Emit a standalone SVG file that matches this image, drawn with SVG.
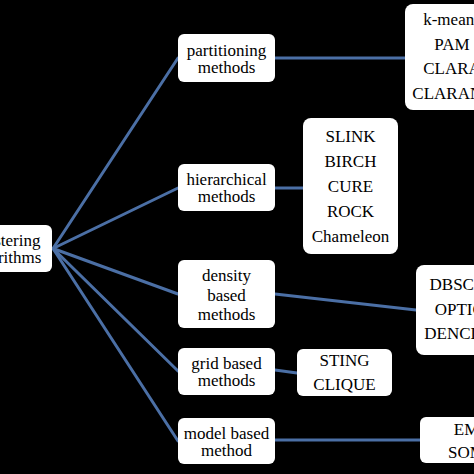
<svg xmlns="http://www.w3.org/2000/svg" width="474" height="474" viewBox="0 0 474 474">
<style>
.box{fill:#ffffff;stroke:none}
.t{font-family:"Liberation Serif","Times New Roman",serif;font-size:17px;fill:#000;text-anchor:middle}
.c{stroke:#4b6fa5;stroke-width:3;fill:none;stroke-linecap:round}
</style>
<rect x="0" y="0" width="474" height="474" fill="#000"/>
<g id="connectors">
<line class="c" x1="53" y1="248.5" x2="178" y2="58"/>
<line class="c" x1="53" y1="248.5" x2="178" y2="188"/>
<line class="c" x1="53" y1="248.5" x2="178" y2="294"/>
<line class="c" x1="53" y1="248.5" x2="178" y2="371"/>
<line class="c" x1="53" y1="248.5" x2="178" y2="441"/>
<line class="c" x1="275" y1="58" x2="405" y2="58"/>
<line class="c" x1="275" y1="188" x2="303" y2="188"/>
<line class="c" x1="275" y1="294" x2="416" y2="310"/>
<line class="c" x1="275" y1="370" x2="297" y2="373"/>
<line class="c" x1="275" y1="440" x2="420" y2="440"/>
</g>
<g id="root">
<rect class="box" x="-38" y="225" width="90" height="47" rx="6"/>
<text class="t" x="5" y="246">Clustering</text>
<text class="t" x="5" y="263">algorithms</text>
</g>
<g id="partitioning">
<rect class="box" x="178" y="34" width="97" height="48" rx="6"/>
<text class="t" x="226.5" y="55.5">partitioning</text>
<text class="t" x="226.5" y="72.5">methods</text>
</g>
<g id="hierarchical">
<rect class="box" x="178" y="164" width="97" height="47" rx="6"/>
<text class="t" x="226.5" y="185">hierarchical</text>
<text class="t" x="226.5" y="202">methods</text>
</g>
<g id="density">
<rect class="box" x="178" y="260" width="97" height="68" rx="6"/>
<text class="t" x="226.5" y="281">density</text>
<text class="t" x="226.5" y="300.5">based</text>
<text class="t" x="226.5" y="320">methods</text>
</g>
<g id="grid">
<rect class="box" x="178" y="348" width="97" height="47" rx="6"/>
<text class="t" x="226.5" y="369">grid based</text>
<text class="t" x="226.5" y="386">methods</text>
</g>
<g id="model">
<rect class="box" x="178" y="418" width="97" height="46" rx="6"/>
<text class="t" x="226.5" y="438.5">model based</text>
<text class="t" x="226.5" y="455.5">method</text>
</g>
<g id="leaf-partitioning">
<rect class="box" x="405" y="4" width="94" height="106" rx="8"/>
<text class="t" x="452" y="25">k-means</text>
<text class="t" x="452" y="49.5">PAM</text>
<text class="t" x="452" y="74">CLARA</text>
<text class="t" x="452" y="98.5">CLARANS</text>
</g>
<g id="leaf-hierarchical">
<rect class="box" x="303" y="118" width="95" height="136" rx="8"/>
<text class="t" x="350.5" y="142">SLINK</text>
<text class="t" x="350.5" y="167">BIRCH</text>
<text class="t" x="350.5" y="192">CURE</text>
<text class="t" x="350.5" y="217">ROCK</text>
<text class="t" x="350.5" y="242">Chameleon</text>
</g>
<g id="leaf-density">
<rect class="box" x="416" y="265" width="96" height="90" rx="8"/>
<text class="t" x="464" y="290">DBSCAN</text>
<text class="t" x="464" y="314.5">OPTICS</text>
<text class="t" x="464" y="339">DENCLUE</text>
</g>
<g id="leaf-grid">
<rect class="box" x="297" y="349" width="95" height="47" rx="6"/>
<text class="t" x="344.5" y="366">STING</text>
<text class="t" x="344.5" y="390">CLIQUE</text>
</g>
<g id="leaf-model">
<rect class="box" x="420" y="417" width="92" height="46" rx="6"/>
<text class="t" x="466.5" y="434.5">EM</text>
<text class="t" x="466.5" y="458">SOM</text>
</g>
</svg>
